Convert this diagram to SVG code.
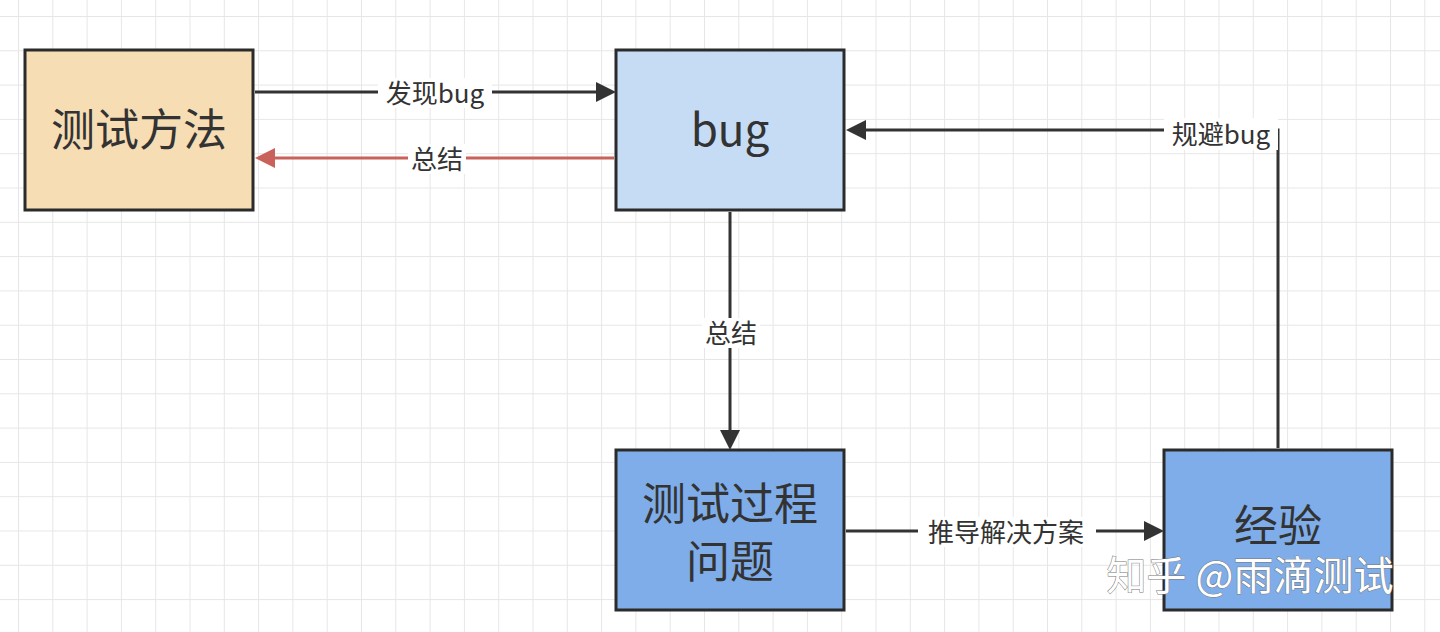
<svg xmlns="http://www.w3.org/2000/svg" width="1440" height="632" viewBox="0 0 1440 632">
<defs>
<pattern id="grid" x="18" y="16" width="34.3" height="34.3" patternUnits="userSpaceOnUse">
<path d="M0 0H34.3M0 0V34.3" fill="none" stroke="#e6e6e6" stroke-width="2"/>
</pattern>
</defs>
<style>
.n{stroke:#2b2b2b;stroke-width:3}
.t{font-family:"Noto Sans CJK SC","Noto Sans",sans-serif;fill:#333;text-anchor:middle}
.big{font-size:44px}
.lbl{font-size:26px}
.c{fill:none;stroke:#333;stroke-width:3}
.bg{fill:#fff}
.ah{fill:#333}
</style>
<rect width="1440" height="632" fill="#fff"/>
<rect width="1440" height="632" fill="url(#grid)"/>
<g id="n1"><rect class="n" x="25" y="50" width="228" height="160" fill="#F6DDB4"/><text class="t big" x="139" y="146">测试方法</text></g>
<g id="n2"><rect class="n" x="616" y="50" width="228" height="160" fill="#C6DCF5"/><text class="t big" x="730" y="146">bug</text></g>
<g id="n3"><rect class="n" x="616" y="450" width="228" height="160" fill="#7EADEA"/><text class="t big" x="730" y="520">测试过程</text><text class="t big" x="730" y="578">问题</text></g>
<g id="n4"><rect class="n" x="1164" y="450" width="228" height="160" fill="#7EADEA"/><text class="t big" x="1278" y="542">经验</text></g>
<g id="connectors">
<path class="c" d="M255 92H596"/>
<path class="ah" d="M596 82L616 92L596 102Z"/>
<path d="M614 158H275" fill="none" stroke="#C9625A" stroke-width="3"/>
<path d="M275 148L255 158L275 168Z" fill="#C9625A"/>
<path class="c" d="M730 212V430"/>
<path class="ah" d="M720 430L730 450L740 430Z"/>
<path class="c" d="M846 531H1144"/>
<path class="ah" d="M1144 521L1164 531L1144 541Z"/>
<path class="c" d="M1278 448V130H866"/>
<path class="ah" d="M866 120L846 130L866 140Z"/>
<rect class="bg" x="378" y="78" width="114" height="30"/><text class="t lbl" x="435" y="103">发现bug</text>
<rect class="bg" x="408" y="144" width="58" height="30"/><text class="t lbl" x="437" y="169">总结</text>
<rect class="bg" x="702" y="318" width="58" height="30"/><text class="t lbl" x="731" y="343">总结</text>
<rect class="bg" x="918" y="517" width="178" height="30"/><text class="t lbl" x="1006" y="542">推导解决方案</text>
<rect class="bg" x="1164" y="118" width="114" height="32"/><text class="t lbl" x="1221" y="144">规避bug</text>
</g>
<text x="1250" y="590" font-family="Noto Sans CJK SC,sans-serif" font-size="40" text-anchor="middle" fill="#fff" stroke="#777" stroke-width="1" style="paint-order:stroke">知乎 @雨滴测试</text>
</svg>
